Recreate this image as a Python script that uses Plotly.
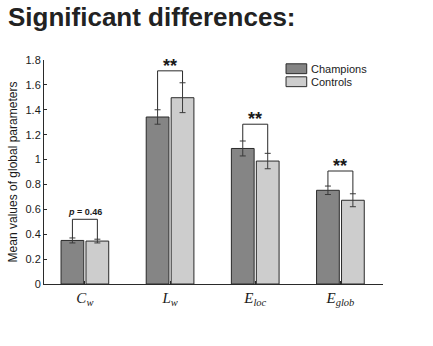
import plotly.graph_objects as go

categories = ["<i>C</i><sub><i>w</i></sub>", "<i>L</i><sub><i>w</i></sub>",
              "<i>E</i><sub><i>loc</i></sub>", "<i>E</i><sub><i>glob</i></sub>"]
champions = [0.350, 1.342, 1.089, 0.753]
champions_err = [0.020, 0.058, 0.060, 0.034]
controls = [0.345, 1.497, 0.988, 0.673]
controls_err = [0.015, 0.120, 0.062, 0.052]
bracket_top = [0.52, 1.713, 1.284, 0.908]
bracket_text = ["<b><i>p</i> = 0.46</b>", "<b>**</b>", "<b>**</b>", "<b>**</b>"]
y_ticks = [0, 0.2, 0.4, 0.6, 0.8, 1.0, 1.2, 1.4, 1.6, 1.8]
y_ticktext = ["0", "0.2", "0.4", "0.6", "0.8", "1", "1.2", "1.4", "1.6", "1.8"]

W = 0.267
GAP = 0.013
xs = list(range(len(categories)))

fig = go.Figure()
err_col = "#3a3a3a"
fig.add_trace(go.Bar(
    x=xs, y=champions, width=W, offset=-(W + GAP), name="Champions",
    marker=dict(color="#858585", line=dict(color="#2a2a2a", width=1)),
    error_y=dict(type="data", array=champions_err, color=err_col, thickness=1, width=3),
    showlegend=False))
fig.add_trace(go.Bar(
    x=xs, y=controls, width=W, offset=GAP, name="Controls",
    marker=dict(color="#cdcdcd", line=dict(color="#2a2a2a", width=1)),
    error_y=dict(type="data", array=controls_err, color=err_col, thickness=1, width=3),
    showlegend=False))

c_off = GAP + W / 2
for i in xs:
    xl = i - c_off
    xr = i + c_off
    yl = champions[i] + champions_err[i]
    yr = controls[i] + controls_err[i]
    fig.add_trace(go.Scatter(
        x=[xl, xl, xr, xr], y=[yl, bracket_top[i], bracket_top[i], yr],
        mode="lines", line=dict(color="#2a2a2a", width=1),
        showlegend=False, hoverinfo="skip"))
    is_p = i == 0
    fig.add_annotation(
        x=i, y=bracket_top[i], text=bracket_text[i], showarrow=False,
        yanchor="bottom", yshift=0 if is_p else -7,
        font=dict(family="Liberation Sans, Arial, sans-serif",
                  size=9 if is_p else 18, color="#1a1a1a"))

# manual legend
legend_items = [("Champions", "#858585", 0.961), ("Controls", "#cdcdcd", 0.903)]
for name, col, yp in legend_items:
    fig.add_shape(type="rect", xref="paper", yref="paper",
                  x0=0.714, x1=0.775, y0=yp - 0.022, y1=yp + 0.022,
                  fillcolor=col, line=dict(color="#2a2a2a", width=1))
    fig.add_annotation(xref="paper", yref="paper", x=0.781, y=yp, text=name,
                       showarrow=False, xanchor="left", yanchor="middle",
                       font=dict(family="Liberation Sans, Arial, sans-serif",
                                 size=11, color="#1a1a1a"))

fig.add_annotation(xref="paper", yref="paper", x=-0.112, y=1.118, xanchor="left",
                   yanchor="bottom", showarrow=False,
                   text="<b>Significant differences:</b>",
                   font=dict(family="Liberation Sans, Arial, sans-serif", size=26,
                             color="#222222"))

fig.update_layout(
    width=433, height=346,
    margin=dict(l=40, r=50, t=59.5, b=61.5),
    paper_bgcolor="white", plot_bgcolor="white",
    font=dict(family="Liberation Sans, Arial, sans-serif", size=11, color="#1a1a1a"),
    xaxis=dict(range=[-0.48, 3.5], tickvals=xs, ticktext=categories,
               showline=True, linecolor="#2a2a2a", linewidth=1,
               ticks="inside", ticklen=3, tickcolor="#2a2a2a",
               showgrid=False, zeroline=False,
               tickfont=dict(family="Liberation Serif, Times New Roman, serif",
                             size=15, color="#1a1a1a")),
    yaxis=dict(range=[0, 1.8], tickvals=y_ticks, ticktext=y_ticktext,
               showline=True, linecolor="#2a2a2a", linewidth=1,
               ticks="inside", ticklen=3, tickcolor="#2a2a2a",
               showgrid=False, zeroline=False,
               title=dict(text="Mean values of global parameters", standoff=5,
                          font=dict(size=12)),
               tickfont=dict(size=11)),
)

fig.write_html("out.html")
